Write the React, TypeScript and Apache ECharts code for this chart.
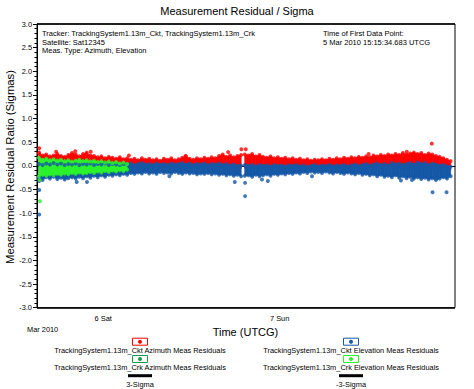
import React, { useEffect, useRef } from "react";
import * as echarts from "echarts";

// ---------- texts ----------
const titleText = "Measurement Residual / Sigma";
const headerLeft = [
  "Tracker: TrackingSystem1.13m_Ckt, TrackingSystem1.13m_Crk",
  "Satellite: Sat12345",
  "Meas. Type: Azimuth, Elevation",
];
const headerRight = ["Time of First Data Point:", "5 Mar 2010 15:15:34.683 UTCG"];
const yAxisTitle = "Measurement Residual Ratio (Sigmas)";
const xAxisTitle = "Time (UTCG)";
const xAxisStartLabel = "Mar 2010";

const seriesNames = [
  "TrackingSystem1.13m_Ckt Azimuth Meas Residuals",
  "TrackingSystem1.13m_Crk Azimuth Meas Residuals",
  "TrackingSystem1.13m_Ckt Elevation Meas Residuals",
  "TrackingSystem1.13m_Crk Elevation Meas Residuals",
];
const sigmaNames = ["3-Sigma", "-3-Sigma"];
const sigmaLevels = [3, -3];

// ---------- axes (x in hours since 5 Mar 2010 15:00 UTCG) ----------
const yMin = -3;
const yMax = 3;
const yStep = 0.5;
const axisEndHour = 56.85;
const tickHours = [0, 3, 6, 9, 12, 15, 18, 21, 24, 27, 30, 33, 36, 39, 42, 45, 48, 51, 54];
const dayTickHours = [9, 33];
const dayTickLabels = ["6 Sat", "7 Sun"];

// samples: first data point 15:15:34, then every 30 minutes
const firstSampleHour = 0.26;
const sampleStepHours = 0.5;
// tracking gaps: no data between these sample indices and the next one
const gapAfterSample = [55];

// ---------- data: envelopes of each residual cloud (sigmas) ----------
// Ckt Azimuth (red)
const cktAzHigh = [
  0.26, 0.22, 0.24, 0.2, 0.22, 0.25, 0.21, 0.19, 0.23, 0.27,
  0.24, 0.2, 0.25, 0.28, 0.22, 0.21, 0.18, 0.2, 0.16, 0.19,
  0.17, 0.15, 0.18, 0.14, 0.16, 0.13, 0.15, 0.12, 0.16, 0.13,
  0.15, 0.12, 0.14, 0.11, 0.15, 0.13, 0.16, 0.12, 0.14, 0.17,
  0.2, 0.15, 0.13, 0.16, 0.14, 0.17, 0.15, 0.18, 0.16, 0.21,
  0.24, 0.19, 0.22, 0.18, 0.21, 0.23, 0.24, 0.22, 0.25, 0.2,
  0.23, 0.19, 0.17, 0.2, 0.16, 0.18, 0.15, 0.17, 0.14, 0.16,
  0.13, 0.15, 0.12, 0.14, 0.11, 0.13, 0.12, 0.14, 0.12, 0.15,
  0.13, 0.16, 0.14, 0.17, 0.15, 0.18, 0.16, 0.19, 0.17, 0.2,
  0.18, 0.22, 0.2, 0.23, 0.21, 0.24, 0.22, 0.25, 0.23, 0.27,
  0.24, 0.26, 0.28, 0.25, 0.27, 0.23, 0.26, 0.24, 0.21, 0.19,
  0.16, 0.13, 0.1,
];
const cktAzLow = [
  -0.05, -0.07, -0.04, -0.06, -0.05, -0.06, -0.04, -0.07, -0.05, -0.06,
  -0.05, -0.07, -0.04, -0.06, -0.05, -0.06, -0.04, -0.07, -0.05, -0.06,
  -0.05, -0.07, -0.04, -0.06, -0.05, -0.06, -0.04, -0.07, -0.05, -0.06,
  -0.05, -0.07, -0.04, -0.06, -0.05, -0.06, -0.04, -0.07, -0.05, -0.06,
  -0.05, -0.07, -0.04, -0.06, -0.05, -0.06, -0.04, -0.07, -0.05, -0.06,
  -0.05, -0.07, -0.04, -0.06, -0.05, -0.06, -0.05, -0.07, -0.05, -0.06,
  -0.05, -0.07, -0.04, -0.06, -0.05, -0.06, -0.04, -0.07, -0.05, -0.06,
  -0.05, -0.07, -0.04, -0.06, -0.05, -0.06, -0.04, -0.07, -0.05, -0.06,
  -0.05, -0.07, -0.04, -0.06, -0.05, -0.06, -0.04, -0.07, -0.05, -0.06,
  -0.05, -0.07, -0.04, -0.06, -0.05, -0.06, -0.04, -0.07, -0.05, -0.06,
  -0.05, -0.07, -0.04, -0.06, -0.05, -0.06, -0.04, -0.07, -0.05, -0.06,
  -0.07, -0.06, -0.08,
];
// Ckt Elevation (blue)
const cktElHigh = [
  0.04, 0.02, 0.05, 0.03, 0.06, 0.03, 0.05, 0.02, 0.04, 0.03,
  0.05, 0.02, 0.04, 0.03, 0.05, 0.02, 0.04, 0.03, 0.05, 0.02,
  0.04, 0.03, 0.02, 0.04, 0.03, 0.05, 0.02, 0.04, 0.06, 0.03,
  0.04, 0.02, 0.05, 0.03, 0.04, 0.02, 0.05, 0.03, 0.04, 0.06,
  0.03, 0.05, 0.02, 0.04, 0.03, 0.05, 0.02, 0.04, 0.03, 0.05,
  0.02, 0.04, 0.01, 0.03, 0.0, 0.01, 0.02, 0.0, 0.02, -0.01,
  0.02, 0.0, 0.01, -0.01, 0.02, 0.0, 0.01, -0.01, 0.01, 0.0,
  0.02, -0.01, 0.01, -0.02, 0.0, 0.02, -0.01, 0.01, 0.0, 0.02,
  -0.01, 0.01, 0.0, 0.02, -0.01, 0.01, 0.03, 0.0, 0.02, 0.04,
  0.01, 0.03, 0.05, 0.02, 0.04, 0.01, 0.06, 0.03, 0.05, 0.02,
  0.04, 0.06, 0.03, 0.07, 0.04, 0.06, 0.02, 0.05, 0.03, 0.01,
  0.02, -0.01, -0.02,
];
const cktElLow = [
  -0.26, -0.3, -0.24, -0.27, -0.23, -0.28, -0.25, -0.29, -0.26, -0.24,
  -0.27, -0.23, -0.26, -0.22, -0.25, -0.21, -0.24, -0.2, -0.23, -0.19,
  -0.21, -0.18, -0.2, -0.17, -0.19, -0.15, -0.17, -0.14, -0.16, -0.13,
  -0.16, -0.14, -0.17, -0.13, -0.15, -0.14, -0.16, -0.13, -0.15, -0.17,
  -0.14, -0.16, -0.15, -0.18, -0.16, -0.17, -0.15, -0.18, -0.16, -0.19,
  -0.17, -0.2, -0.18, -0.21, -0.19, -0.22, -0.21, -0.2, -0.23, -0.19,
  -0.22, -0.2, -0.18, -0.21, -0.17, -0.19, -0.16, -0.18, -0.15, -0.17,
  -0.14, -0.16, -0.13, -0.15, -0.12, -0.14, -0.13, -0.15, -0.12, -0.14,
  -0.16, -0.13, -0.15, -0.17, -0.14, -0.16, -0.18, -0.15, -0.19, -0.17,
  -0.2, -0.18, -0.22, -0.19, -0.23, -0.21, -0.24, -0.2, -0.25, -0.22,
  -0.26, -0.23, -0.27, -0.24, -0.28, -0.25, -0.29, -0.26, -0.3, -0.27,
  -0.24, -0.27, -0.22,
];
// Crk Azimuth (dark green) - first pass only
const crkAzHigh = [
  0.08, 0.06, 0.07, 0.05, 0.07, 0.05, 0.06, 0.04, 0.06, 0.04,
  0.05, 0.06, 0.04, 0.05, 0.03, 0.05, 0.03, 0.04, 0.02, 0.04,
  0.02, 0.03, 0.01, 0.03, 0.01,
];
const crkAzLow = [
  -0.1, -0.08, -0.09, -0.07, -0.09, -0.07, -0.08, -0.06, -0.08, -0.06,
  -0.07, -0.06, -0.07, -0.06, -0.05, -0.06, -0.05, -0.06, -0.04, -0.05,
  -0.04, -0.05, -0.03, -0.04, -0.03,
];
// Crk Elevation (lime) - first pass only
const crkElHigh = [
  0.17, 0.13, 0.15, 0.12, 0.14, 0.11, 0.13, 0.1, 0.12, 0.09,
  0.11, 0.13, 0.1, 0.12, 0.09, 0.11, 0.08, 0.1, 0.07, 0.09,
  0.06, 0.08, 0.05, 0.07, 0.04,
];
const crkElLow = [
  -0.22, -0.19, -0.21, -0.18, -0.2, -0.17, -0.19, -0.16, -0.18, -0.15,
  -0.17, -0.14, -0.16, -0.15, -0.13, -0.15, -0.12, -0.14, -0.11, -0.13,
  -0.1, -0.12, -0.09, -0.11, -0.08,
];
// isolated points: [hour since axis start, sigmas]
const cktAzOutliers = [
  [0.3, 0.37], [0.3, 0.28], [2.6, 0.3], [5.2, 0.31], [7.3, 0.3], [12.5, 0.22],
  [20.2, 0.21], [26.0, 0.29], [27.8, 0.35], [28.4, 0.35], [45.1, 0.25],
  [50.3, 0.3], [53.7, 0.47],
];
const cktElOutliers = [
  [0.3, -0.32], [0.3, -0.51], [0.3, -1.03], [5.4, -0.34], [6.8, -0.34],
  [18.0, -0.22], [26.9, -0.34], [28.3, -0.36], [28.3, -0.64], [30.6, -0.29],
  [31.4, -0.32], [37.4, -0.22], [49.5, -0.31], [51.0, -0.3], [53.8, -0.56],
  [55.7, -0.56],
];
const crkElOutliers = [[0.4, -0.75], [0.35, -0.3]];

// ---------- styles ----------
const colors = ["#ff0000", "#1a9a4e", "#1558a6", "#2cf22c"];
const FONT = "'Liberation Sans', Arial, sans-serif";

type V = number | null;
const sampleHour = (i: number) => firstSampleHour + i * sampleStepHours;
const edgePts = (vals: V[]) =>
  vals.map((v, i) => (v == null ? null : [sampleHour(i), v])).filter((p) => p != null);

// segments of a band: [x0, hi0, lo0, x1, hi1, lo1]
function segments(hi: V[], lo: V[]) {
  const out: number[][] = [];
  for (let i = 0; i + 1 < hi.length; i++) {
    if (gapAfterSample.indexOf(i) >= 0) continue;
    const a = hi[i], b = lo[i], c = hi[i + 1], d = lo[i + 1];
    if (a == null || b == null || c == null || d == null) continue;
    out.push([sampleHour(i), a, b, sampleHour(i + 1), c, d]);
  }
  return out;
}

function band(name: string, color: string, hi: V[], lo: V[], edgeTop: boolean, edgeBottom: boolean): any[] {
  const out: any[] = [
    {
      type: "custom",
      name,
      silent: true,
      clip: true,
      encode: { x: [0, 3], y: [1, 2, 4, 5] },
      data: segments(hi, lo),
      renderItem: (params: any, api: any) => {
        const p0 = api.coord([api.value(0), api.value(1)]);
        const p1 = api.coord([api.value(3), api.value(4)]);
        const p2 = api.coord([api.value(3), api.value(5)]);
        const p3 = api.coord([api.value(0), api.value(2)]);
        return {
          type: "polygon",
          shape: { points: [p0, p1, p2, p3] },
          style: { fill: color, stroke: color, lineWidth: 0.8 },
        };
      },
    },
  ];
  if (edgeTop) {
    out.push({ type: "scatter", name: name + " top", symbolSize: 4, itemStyle: { color }, silent: true, data: edgePts(hi) });
  }
  if (edgeBottom) {
    out.push({ type: "scatter", name: name + " bottom", symbolSize: 4, itemStyle: { color }, silent: true, data: edgePts(lo) });
  }
  return out;
}

function legendItem(cx: number, iconY: number, textY: number, color: string, label: string): any[] {
  return [
    { type: "rect", shape: { x: cx - 7.5, y: iconY - 3.5, width: 15, height: 7 }, style: { fill: "#fff", stroke: color, lineWidth: 1 } },
    { type: "circle", shape: { cx, cy: iconY, r: 2 }, style: { fill: color } },
    { type: "text", x: cx, y: textY, style: { text: label, fontSize: 7.4, fontFamily: FONT, fill: "#000", align: "center", verticalAlign: "middle" } },
  ];
}

function sigmaItem(cx: number, lineY: number, textY: number, label: string): any[] {
  return [
    { type: "line", shape: { x1: cx - 12, y1: lineY, x2: cx + 12, y2: lineY }, style: { stroke: "#000", lineWidth: 3 } },
    { type: "text", x: cx, y: textY, style: { text: label, fontSize: 7.4, fontFamily: FONT, fill: "#000", align: "center", verticalAlign: "middle" } },
  ];
}

function buildOption(): any {
  const series: any[] = [
    ...band(seriesNames[0], colors[0], cktAzHigh, cktAzLow, true, false),
    ...band(seriesNames[1], colors[1], crkAzHigh, crkAzLow, false, false),
    ...band(seriesNames[2], colors[2], cktElHigh, cktElLow, true, true),
    ...band(seriesNames[3], colors[3], crkElHigh, crkElLow, true, true),
    {
      type: "scatter",
      name: seriesNames[0] + " outliers",
      symbolSize: 4,
      itemStyle: { color: colors[0] },
      silent: true,
      data: cktAzOutliers,
      markLine: {
        silent: true,
        symbol: ["none", "none"],
        label: { show: false },
        lineStyle: { color: "#000", width: 1.5, type: "solid" },
        data: sigmaLevels.map((v) => ({ yAxis: v })),
      },
    },
    {
      type: "scatter",
      name: seriesNames[2] + " outliers",
      symbolSize: 4,
      itemStyle: { color: colors[2] },
      silent: true,
      data: cktElOutliers,
    },
    {
      type: "scatter",
      name: seriesNames[3] + " outliers",
      symbolSize: 4,
      itemStyle: { color: colors[3] },
      silent: true,
      data: crkElOutliers,
    },
  ];

  const txt = (x: number, y: number, text: string, size: number, align = "left", extra: any = {}) => ({
    type: "text",
    x,
    y,
    ...extra,
    style: { text, fontSize: size, fontFamily: FONT, fill: "#000", align, verticalAlign: "middle" },
  });

  const graphics: any[] = [
    txt(237, 10.5, titleText, 11, "center"),
    ...headerLeft.map((t, i) => txt(42, 33.3 + i * 8.7, t, 7.5)),
    ...headerRight.map((t, i) => txt(323, 33.3 + i * 8.7, t, 7.5)),
    txt(10, 167, yAxisTitle, 11.3, "center", { rotation: Math.PI / 2 }),
    txt(245.5, 331.5, xAxisTitle, 11, "center"),
    txt(27, 329, xAxisStartLabel, 7.4),
    ...legendItem(140, 341.7, 350, colors[0], seriesNames[0]),
    ...legendItem(140, 359, 367.3, colors[1], seriesNames[1]),
    ...sigmaItem(140, 375.7, 384, sigmaNames[0]),
    ...legendItem(351, 341.7, 350, colors[2], seriesNames[2]),
    ...legendItem(351, 359, 367.3, colors[3], seriesNames[3]),
    ...sigmaItem(351, 375.7, 384, sigmaNames[1]),
  ];

  return {
    animation: false,
    backgroundColor: "#fff",
    textStyle: { fontFamily: FONT },
    grid: {
      left: 37,
      right: 19,
      top: 24,
      bottom: 81.3,
      show: true,
      borderColor: "#000",
      borderWidth: 1,
      backgroundColor: "transparent",
    },
    xAxis: {
      type: "value",
      min: 0,
      max: axisEndHour,
      offset: 2,
      axisLine: { show: true, lineStyle: { color: "#000", width: 1 } },
      axisTick: {
        show: true,
        inside: false,
        length: 4,
        lineStyle: { color: "#000" },
        customValues: tickHours,
      },
      axisLabel: {
        show: true,
        fontSize: 7.4,
        color: "#000",
        margin: 5,
        customValues: dayTickHours,
        formatter: (v: number) => {
          const idx = dayTickHours.findIndex((h) => Math.abs(h - v) < 1e-6);
          return idx >= 0 ? dayTickLabels[idx] : "";
        },
      },
      splitLine: { show: false },
    },
    yAxis: {
      type: "value",
      min: yMin,
      max: yMax,
      interval: yStep,
      axisLine: { show: true, lineStyle: { color: "#000", width: 1 } },
      axisTick: { show: true, inside: false, length: 4, lineStyle: { color: "#000" } },
      minorTick: { show: true, splitNumber: 5, length: 2.5, lineStyle: { color: "#000" } },
      axisLabel: {
        fontSize: 7.4,
        color: "#000",
        margin: 5,
        formatter: (v: number) => v.toFixed(1),
      },
      splitLine: { show: false },
      minorSplitLine: { show: false },
    },
    series,
    graphic: { elements: graphics },
  };
}

export default function App() {
  const ref = useRef<HTMLDivElement>(null);
  useEffect(() => {
    document.body.style.margin = "0";
    const chart = echarts.init(ref.current!, undefined, { renderer: "svg" });
    chart.setOption(buildOption());
    return () => chart.dispose();
  }, []);
  return <div ref={ref} style={{ width: 474, height: 389 }} />;
}
